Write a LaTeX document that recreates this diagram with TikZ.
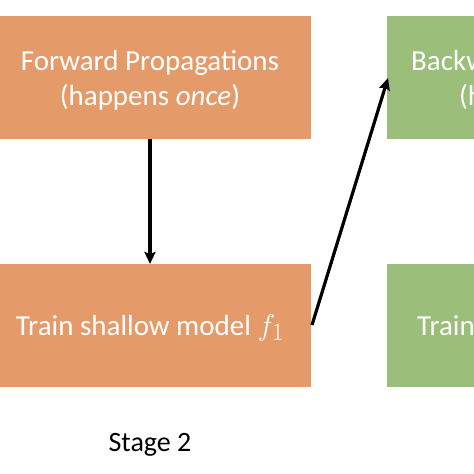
\documentclass[tikz,border=0pt]{standalone}
\usepackage{fontspec}
\usepackage{graphicx}
\setmainfont{Carlito}
\usetikzlibrary{arrows.meta}
\definecolor{boxorange}{HTML}{E59A6A}
\definecolor{boxgreen}{HTML}{9BBE7A}
\begin{document}
\begin{tikzpicture}[x=1pt,y=-1pt,
  obox/.style={fill=boxorange,draw=none,inner sep=0pt},
  gbox/.style={fill=boxgreen,draw=none,inner sep=0pt},
  wtext/.style={text=white,font=\fontsize{29}{35}\selectfont,inner sep=0pt},
  conn/.style={line width=3.2pt,-{Stealth[length=12pt,width=11pt,inset=2pt]}}]
\useasboundingbox (0,0) rectangle (474,474);
\clip (0,0) rectangle (474,474);
\path[obox] (-5,16) rectangle (311,139);
\node[minimum width=316pt,minimum height=123pt] (fp) at (153,77.5) {};
\path[gbox] (387,16) rectangle (480,139);
\node[minimum width=93pt,minimum height=123pt] (bp) at (433.5,77.5) {};
\path[obox] (-5,264) rectangle (311,387);
\node[minimum width=316pt,minimum height=123pt] (ts) at (153,325.5) {};
\path[gbox] (387,264) rectangle (480,387);
\node[minimum width=93pt,minimum height=123pt] (td) at (433.5,325.5) {};
\node[wtext,anchor=base] (t1) at (150,70) {Forward Propagations};
\node[wtext,anchor=base] (t2) at (150,105) {(happens \textit{once})};
\node[wtext,anchor=base] (t3) at (150,335) {Train shallow model \scalebox{1.2}{$f_1$}};
\node[wtext,anchor=base west] (g1) at (411,70) {Backw};
\node[wtext,anchor=base west] (g2) at (459,105) {(h};
\node[wtext,anchor=base west] (g3) at (417,335) {Train};
\node[font=\fontsize{28}{35}\selectfont,inner sep=0pt,anchor=base] (st) at (150,451) {Stage 2};
\coordinate (a1) at (150,139);
\coordinate (a2) at (150,264);
\coordinate (b1) at (312,325);
\coordinate (b2) at (388,78);
\draw[conn] (a1) -- (a2);
\draw[conn] (b1) -- (b2);
\end{tikzpicture}
\end{document}
